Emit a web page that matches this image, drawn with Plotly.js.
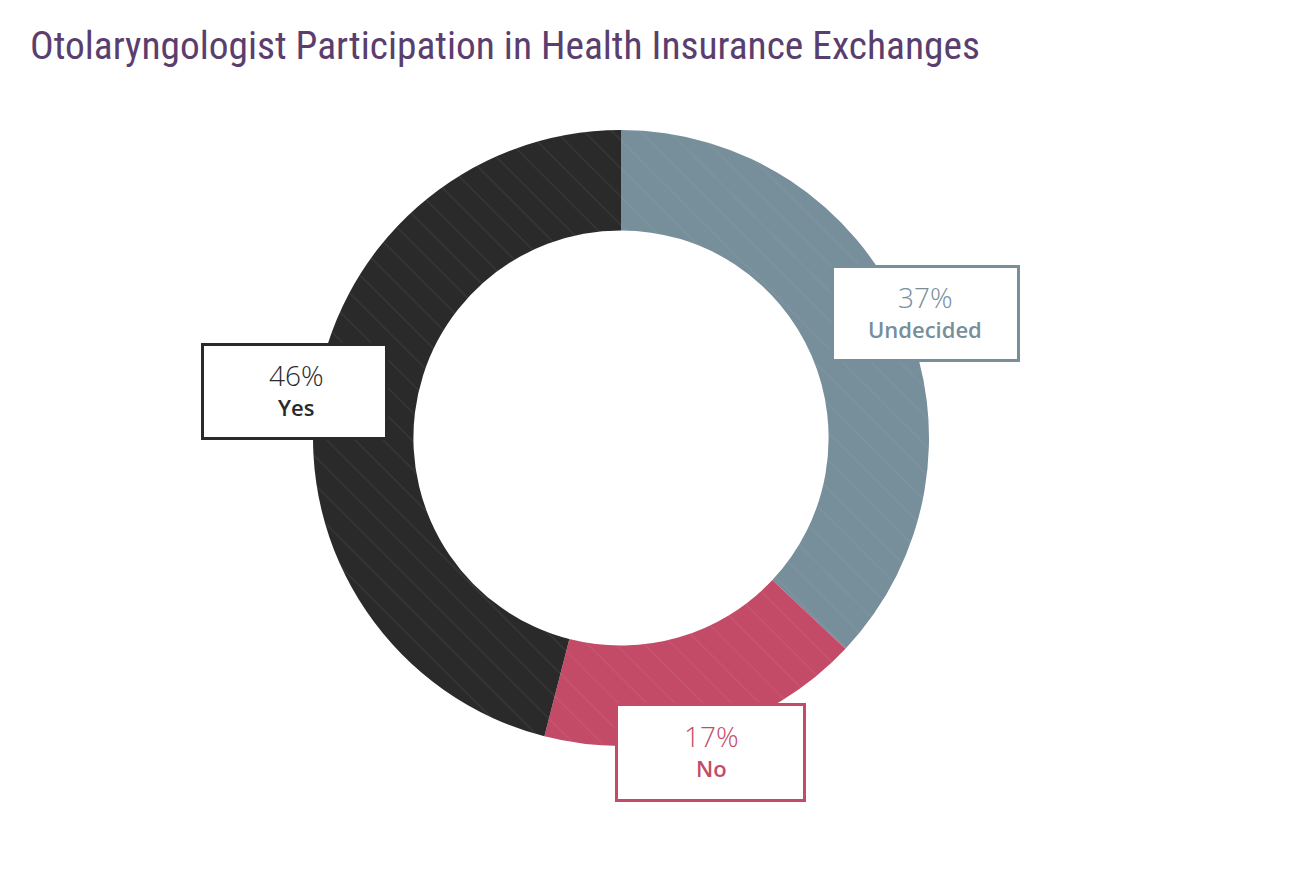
<!DOCTYPE html>
<html>
<head>
<meta charset="utf-8">
<script src="https://cdn.plot.ly/plotly-3.0.1.min.js"></script>
<style>
  html, body { margin: 0; padding: 0; background: #ffffff; }
  #chart { width: 1290px; height: 878px; }
</style>
</head>
<body>
<div id="chart"></div>
<script>
// Survey answers, in clockwise order from 12 o'clock
const categories = ["Undecided", "No", "Yes"];
const shares = [37, 17, 46];
const sliceColors = ["#778e9b", "#c44b67", "#2a2a2a"];

const W = 1290, H = 878;
const margin = { l: 313, r: 361, t: 130, b: 132 };
const plotW = W - margin.l - margin.r;
const plotH = H - margin.t - margin.b;

// pixel -> paper helpers for the callout boxes
const px = x => (x - margin.l) / plotW;
const py = y => (H - margin.b - y) / plotH;

const boxFont = "'Open Sans', Lato, sans-serif";

// callout boxes: frame edges and text centre, in page pixels
const callouts = [
  { label: "Undecided", x0: 832.5, x1: 1018.5, y0: 266.5, y1: 360.5, tx: 925, color: sliceColors[0] },
  { label: "No",        x0: 616.5, x1: 804.5,  y0: 704.5, y1: 800.5, tx: 711, color: sliceColors[1] },
  { label: "Yes",       x0: 202.5, x1: 386.5,  y0: 344.5, y1: 438.5, tx: 296, color: sliceColors[2] }
];

const shapes = callouts.map(c => ({
  type: "rect",
  xref: "paper", yref: "paper",
  x0: px(c.x0), x1: px(c.x1),
  y0: py(c.y1), y1: py(c.y0),
  fillcolor: "#ffffff",
  line: { color: c.color, width: 3 },
  layer: "above"
}));

const annotations = [];
callouts.forEach(c => {
  const i = categories.indexOf(c.label);
  const mid = (c.y0 + c.y1) / 2;
  annotations.push({
    xref: "paper", yref: "paper",
    x: px(c.tx), y: py(mid - 17),
    xanchor: "center", yanchor: "middle",
    showarrow: false,
    text: "<span style='font-weight:300'>" + shares[i] + "%</span>",
    font: { family: boxFont, color: c.color, size: 28 }
  });
  annotations.push({
    xref: "paper", yref: "paper",
    x: px(c.tx), y: py(mid + 15),
    xanchor: "center", yanchor: "middle",
    showarrow: false,
    text: "<span style='font-weight:600'>" + c.label + "</span>",
    font: { family: boxFont, color: c.color, size: 22 }
  });
});

const data = [{
  type: "pie",
  labels: categories,
  values: shares,
  sort: false,
  direction: "clockwise",
  rotation: 0,
  hole: 0.674,
  textinfo: "none",
  hoverinfo: "label+percent",
  marker: {
    colors: sliceColors,
    line: { width: 0 },
    pattern: {
      shape: "\\",
      fillmode: "overlay",
      fgcolor: "#d8d8e0",
      fgopacity: 0.1,
      size: 20,
      solidity: 0.05
    }
  },
  showlegend: false
}];

const layout = {
  width: W, height: H,
  margin: margin,
  paper_bgcolor: "#ffffff",
  plot_bgcolor: "#ffffff",
  title: {
    text: "Otolaryngologist Participation in Health Insurance Exchanges",
    font: { family: "'Roboto Condensed', 'Liberation Sans Narrow', 'DejaVu Sans Condensed', Roboto, sans-serif", size: 39.4, color: "#5a3e6e" },
    x: 30 / W, xanchor: "left",
    xref: "container",
    y: 1 - 45 / H, yanchor: "middle",
    yref: "container"
  },
  shapes: shapes,
  annotations: annotations
};

Plotly.newPlot("chart", data, layout, { displayModeBar: false, staticPlot: true });
</script>
</body>
</html>
